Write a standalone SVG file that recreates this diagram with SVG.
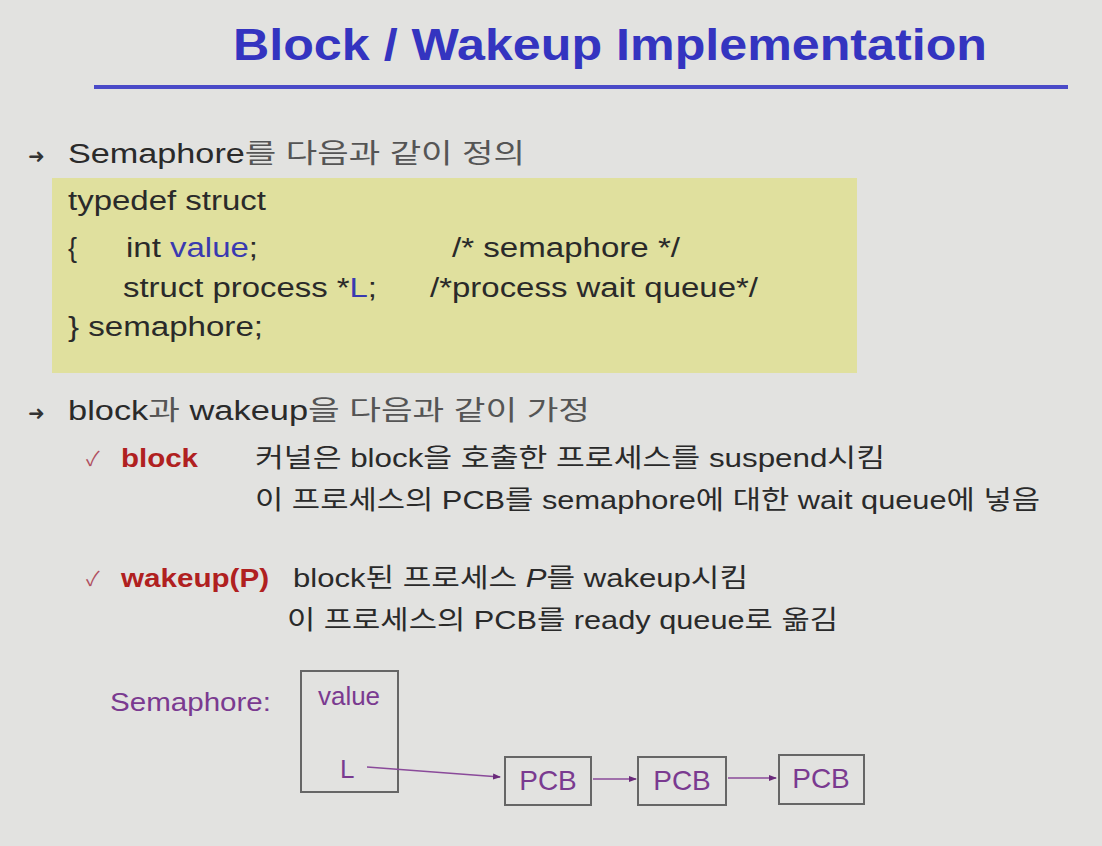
<svg xmlns="http://www.w3.org/2000/svg" width="1102" height="846" viewBox="0 0 1102 846">
<defs>
<style>
text{font-family:"Liberation Sans","Noto Sans CJK KR",sans-serif;}
.t{font-size:27px;fill:#2a2a2a;}
.k{fill:#555;}
.red{font-size:25px;fill:#b02020;font-weight:bold;}
.pu{font-size:26px;fill:#7a3a90;}
.box{fill:none;stroke:#666;stroke-width:2;}
.ln{stroke:#8a4a9a;stroke-width:1.6;fill:none;}
</style>
<marker id="ah" markerWidth="8" markerHeight="8" refX="7" refY="4" orient="auto" markerUnits="userSpaceOnUse"><path d="M0,1 L8,4 L0,7z" fill="#6a2a7a"/></marker>
</defs>
<rect width="1102" height="846" fill="#e2e2e0"/>
<text x="233" y="60" textLength="754" lengthAdjust="spacingAndGlyphs" style="font-size:44px;font-weight:bold;fill:#3434c0">Block / Wakeup Implementation</text>
<line x1="94" y1="87" x2="1068" y2="87" stroke="#4a4ac8" stroke-width="4"/>
<text x="28" y="163" style="font-size:20px;fill:#333">➜</text>
<text x="68" y="163" class="t" textLength="457" lengthAdjust="spacingAndGlyphs">Semaphore<tspan class="k">를 다음과 같이 정의</tspan></text>
<rect x="52" y="178" width="805" height="195" fill="#e0e09e"/>
<text x="68" y="210" class="t" textLength="198" lengthAdjust="spacingAndGlyphs">typedef struct</text>
<text x="68" y="257" class="t">{</text>
<text x="126" y="257" class="t" textLength="132" lengthAdjust="spacingAndGlyphs">int <tspan fill="#3a3ab0">value</tspan>;</text>
<text x="452" y="257" class="t" textLength="228" lengthAdjust="spacingAndGlyphs">/* semaphore */</text>
<text x="123" y="297" class="t" textLength="254" lengthAdjust="spacingAndGlyphs">struct process *<tspan fill="#3a3ab0">L</tspan>;</text>
<text x="430" y="297" class="t" textLength="328" lengthAdjust="spacingAndGlyphs">/*process wait queue*/</text>
<text x="68" y="336" class="t" textLength="195" lengthAdjust="spacingAndGlyphs">} semaphore;</text>
<text x="28" y="420" style="font-size:20px;fill:#333">➜</text>
<text x="68" y="420" class="t" textLength="522" lengthAdjust="spacingAndGlyphs">block<tspan class="k">과 </tspan>wakeup<tspan class="k">을 다음과 같이 가정</tspan></text>
<text x="86" y="466" style="font-size:20px;fill:#b05060">✓</text>
<text x="121" y="467" class="red" textLength="77" lengthAdjust="spacingAndGlyphs">block</text>
<text x="255" y="467" class="t" style="font-size:26px" textLength="630" lengthAdjust="spacingAndGlyphs">커널은 block을 호출한 프로세스를 suspend시킴</text>
<text x="255" y="509" class="t" style="font-size:26px" textLength="785" lengthAdjust="spacingAndGlyphs">이 프로세스의 PCB를 semaphore에 대한 wait queue에 넣음</text>
<text x="86" y="586" style="font-size:20px;fill:#b05060">✓</text>
<text x="121" y="587" class="red" textLength="148" lengthAdjust="spacingAndGlyphs">wakeup(P)</text>
<text x="293" y="587" class="t" style="font-size:26px" textLength="455" lengthAdjust="spacingAndGlyphs">block된 프로세스 <tspan font-style="italic">P</tspan>를 wakeup시킴</text>
<text x="287" y="629" class="t" style="font-size:26px" textLength="551" lengthAdjust="spacingAndGlyphs">이 프로세스의 PCB를 ready queue로 옮김</text>
<text x="110" y="711" class="pu" textLength="161" lengthAdjust="spacingAndGlyphs">Semaphore:</text>
<g id="sem"><rect x="301" y="671" width="97" height="121" class="box"/><text x="349" y="705" class="pu" text-anchor="middle">value</text><text x="340" y="778" class="pu">L</text></g>
<g id="pcb1"><rect x="505" y="757" width="86" height="48" class="box"/><text x="548" y="790" class="pu" text-anchor="middle" style="font-size:28px">PCB</text></g>
<g id="pcb2"><rect x="638" y="757" width="88" height="48" class="box"/><text x="682" y="790" class="pu" text-anchor="middle" style="font-size:28px">PCB</text></g>
<g id="pcb3"><rect x="779" y="755" width="85" height="49" class="box"/><text x="821" y="788" class="pu" text-anchor="middle" style="font-size:28px">PCB</text></g>
<g id="connectors">
<line x1="367" y1="767" x2="500" y2="777" class="ln" marker-end="url(#ah)"/>
<line x1="593" y1="779" x2="636" y2="779" class="ln" marker-end="url(#ah)"/>
<line x1="728" y1="778" x2="776" y2="778" class="ln" marker-end="url(#ah)"/>
</g>
</svg>
